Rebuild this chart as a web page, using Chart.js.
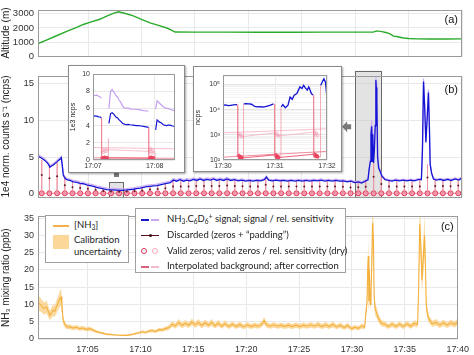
<!DOCTYPE html>
<html><head><meta charset="utf-8">
<script src="https://cdn.jsdelivr.net/npm/chart.js@4.4.1/dist/chart.umd.min.js"></script>
<style>
html,body{margin:0;padding:0;background:#fff;}
body{width:474px;height:355px;position:relative;overflow:hidden;font-family:"Liberation Sans",Arial,sans-serif;}
canvas{position:absolute;left:0;top:0;}
.inset{position:absolute;box-sizing:border-box;background:#fff;border:1px solid #8a8a8a;box-shadow:1px 1px 2px rgba(0,0,0,0.35);}
.lg{position:absolute;box-sizing:border-box;background:#fff;border:1px solid #a0a0a0;font-family:Lato,"Open Sans",sans-serif;font-size:9.5px;color:#222;}
.lg .t{position:absolute;white-space:nowrap;line-height:12px;}
.lg .ln{position:absolute;height:1.6px;}
.lg .dot{position:absolute;width:3px;height:3px;border-radius:50%;}
.lg .cir{position:absolute;box-sizing:border-box;width:6px;height:6px;border-radius:50%;}
sub,sup{font-size:70%;line-height:0;position:relative;vertical-align:baseline;}
sub{top:0.3em;} sup{top:-0.45em;}
</style></head>
<body>
<canvas id="ca" width="474" height="66"></canvas>
<canvas id="cb" width="474" height="141" style="top:66px"></canvas>
<canvas id="cc" width="474" height="148" style="top:207px"></canvas>
<div class="inset" style="left:68px;top:65px;width:117px;height:108px"><canvas id="ia" width="115" height="106"></canvas></div>
<div class="inset" style="left:193px;top:66px;width:149px;height:106px"><canvas id="ib" width="147" height="104"></canvas></div>

<div class="lg" style="left:45px;top:215px;width:84px;height:48px;">
  <i class="ln" style="left:7px;top:9px;width:16px;background:#f2b24a"></i>
  <span class="t" style="left:28px;top:3px">[NH<sub>3</sub>]</span>
  <i style="position:absolute;left:7px;top:19px;width:16px;height:14px;background:#fbd79a"></i>
  <span class="t" style="left:28px;top:18px">Calibration</span>
  <span class="t" style="left:28px;top:30px">uncertainty</span>
</div>

<div class="lg" style="left:135px;top:208px;width:211px;height:65px;">
  <i class="ln" style="left:5px;top:10px;width:8px;background:#1a1acc"></i>
  <i class="ln" style="left:15px;top:10px;width:8px;background:#c8a8f0"></i>
  <span class="t" style="left:31px;top:4px">NH<sub>3</sub>.C<sub>6</sub>D<sub>6</sub><sup>+</sup> signal; signal / rel. sensitivity</span>
  <i class="ln" style="left:5px;top:26px;width:18px;background:#5a0f1e;height:1.2px"></i>
  <i class="dot" style="left:12.5px;top:25px;background:#3a0810"></i>
  <span class="t" style="left:31px;top:20px">Discarded (zeros + “padding”)</span>
  <i class="cir" style="left:5px;top:39px;border:1.5px solid #e03050"></i>
  <i class="cir" style="left:16px;top:39px;border:1.2px solid #f4a9b9"></i>
  <span class="t" style="left:31px;top:36px">Valid zeros; valid zeros / rel. sensitivity (dry)</span>
  <i class="ln" style="left:5px;top:57px;width:8px;background:#d9607a"></i>
  <i class="ln" style="left:15px;top:57px;width:8px;background:#f4bccb"></i>
  <span class="t" style="left:31px;top:51px">Interpolated background; after correction</span>
</div>

<script>
// ---------- DATA (time in minutes after 17:00) ----------
const xTickVals = [5,10,15,20,25,30,35,40];
const xTickLabels = ['17:05','17:10','17:15','17:20','17:25','17:30','17:35','17:40'];

// (a) altitude
const altTime = [0.33,1.0,2.0,3.0,4.0,4.56,5.3,5.97,6.4,6.75,7.3,7.84,8.5,9.24,10.0,10.81,11.6,12.37,12.8,13.15,15,18,21,24,27,30,31.69,32.03,32.5,32.97,33.3,33.59,34.0,34.52,35.0,35.78,37,38.5,40.0];
const altVal  = [900,1110,1430,1750,2050,2240,2420,2575,2700,2820,3000,3130,3010,2850,2600,2350,2180,1990,1850,1710,1700,1700,1690,1690,1700,1700,1700,1790,1740,1660,1560,1420,1380,1290,1250,1230,1220,1215,1230];
const altTicks = [0,1000,2000,3000];

// (b) signal (1e4 ncps) and (c) NH3 (ppb)
const tSig = [0.33,0.6,0.9,1.13,1.3,1.44,1.6,1.75,1.9,2.07,2.2,2.38,2.5,2.58,2.69,2.85,3.01,3.3,3.63,3.95,4.25,4.55,4.88,5.2,5.5,5.8,6.13,6.45,6.75,7.2,7.69,8.15,8.62,8.95,9.24,9.55,9.87,10.2,10.5,10.8,11.12,11.45,11.74,12.05,12.37,12.7,12.99,13.3,13.62,13.95,14.24,14.55,14.86,15.2,15.49,15.8,16.12,16.45,16.74,17.05,17.36,17.7,17.99,18.35,18.7,19.05,19.4,19.75,20.1,20.45,20.8,21.15,21.5,21.7,21.9,22.25,22.6,22.95,23.3,23.65,24.0,24.35,24.7,25.05,25.4,25.75,26.1,26.45,26.8,27.15,27.5,27.85,28.2,28.55,28.9,29.25,29.6,29.95,30.3,30.6,30.95,31.2,31.3,31.42,31.48,31.55,31.6,31.65,31.72,31.8,31.88,31.94,31.98,32.03,32.1,32.2,32.35,32.5,32.8,33.1,33.45,33.8,34.15,34.5,34.85,35.2,35.55,35.9,36.2,36.3,36.4,36.5,36.62,36.75,36.86,36.95,37.02,37.15,37.33,37.6,37.95,38.3,38.65,39.0,39.35,39.7,40.0];
const sig = [5.1,4.9,4.6,4.3,4.0,3.6,3.8,3.9,4.1,4.3,4.5,4.7,4.9,4.0,2.5,2.1,1.9,1.8,1.6,1.55,1.4,1.35,1.2,1.1,1.0,0.85,0.75,0.65,0.55,0.52,0.48,0.45,0.5,0.55,0.6,0.68,0.75,0.85,0.95,1.0,1.05,1.1,1.2,1.3,1.4,1.5,1.85,1.7,1.9,1.7,1.85,1.75,1.95,1.8,2.0,1.8,1.95,1.85,2.0,1.8,1.95,1.8,2.0,1.8,1.9,1.75,1.85,1.7,1.8,1.7,1.8,1.75,1.9,2.25,1.85,1.75,1.85,1.75,1.8,1.7,1.8,1.7,1.8,1.7,1.8,1.72,1.82,1.75,1.85,1.72,1.8,1.7,1.82,1.7,1.75,1.6,1.7,1.5,1.6,1.45,1.7,1.9,3.2,4.4,8.1,9.2,4.4,8.1,4.2,6.0,9.3,15.5,14.5,12.8,5.0,3.5,3.0,2.4,1.9,1.8,1.7,1.85,1.75,1.85,1.75,1.85,1.75,1.9,1.9,6.0,15.3,12.0,7.0,10.5,13.8,9.0,4.0,2.8,2.0,1.85,1.95,1.8,1.95,1.8,2.0,1.85,2.15];
const sigRel = [5.3,5.1,4.8,4.5,4.2,3.8,4.0,4.1,4.3,4.5,4.7,4.9,5.1,4.2,2.7,2.3,2.1,2.0,1.8,1.75,1.6,1.55,1.4,1.3,1.2,1.05,0.95,0.85,0.75,0.72,0.68,0.65,0.7,0.75,0.8,0.88,0.95,1.05,1.15,1.2,1.25,1.3,1.4,1.5,1.6,1.7,2.05,1.9,2.1,1.9,2.05,1.95,2.15,2.0,2.2,2.0,2.15,2.05,2.2,2.0,2.15,2.0,2.2,1.95,2.05,1.9,2.0,1.85,1.95,1.85,1.95,1.9,2.05,2.4,2.0,1.9,2.0,1.9,1.95,1.85,1.95,1.85,1.95,1.85,1.95,1.87,1.97,1.9,2.0,1.87,1.95,1.85,1.97,1.85,1.9,1.75,1.85,1.65,1.75,1.6,1.85,2.05,3.4,4.7,8.7,10.1,4.8,8.7,4.5,6.4,9.9,15.9,15.0,13.3,5.3,3.7,3.2,2.55,2.05,1.95,1.85,2.0,1.9,2.0,1.9,2.0,1.9,2.05,2.05,6.3,15.7,12.4,7.3,10.9,14.2,9.4,4.2,3.0,2.15,2.0,2.1,1.95,2.1,1.95,2.15,2.0,2.3];
const nh3 = [10.5,9.8,8.8,9.3,7.9,6.8,7.6,8.4,8.0,9.4,10.2,11.6,12.2,9.8,5.6,4.2,3.6,3.5,3.2,3.4,3.0,3.2,2.8,3.0,2.6,2.2,1.9,1.7,1.4,1.3,1.15,1.1,1.05,1.2,1.3,1.6,1.8,2.1,1.9,2.3,2.4,2.2,2.7,2.6,3.0,3.3,4.3,3.8,4.8,3.9,4.6,4.0,4.9,4.1,4.8,3.9,4.7,4.0,4.8,3.8,4.6,3.7,4.5,3.6,4.3,3.6,4.2,3.5,4.1,3.6,4.0,3.7,4.3,5.3,4.2,3.7,4.1,3.7,4.0,3.6,4.0,3.6,4.0,3.6,4.0,3.7,4.1,3.7,4.2,3.6,4.1,3.6,4.2,3.5,4.0,3.3,3.9,3.0,3.4,3.1,3.8,3.4,7.0,10.5,19.0,24.0,11.0,20.0,10.0,14.0,22.0,33.5,31.5,29.0,12.0,8.5,7.5,6.0,4.5,4.3,3.6,4.3,3.6,4.3,3.6,4.4,3.7,4.5,4.2,14.0,33.3,28.0,17.0,24.0,30.0,21.0,10.0,7.0,5.5,4.4,4.8,4.0,4.7,4.0,4.7,4.2,5.0];
const calUncertainty = 0.2;   // relative calibration uncertainty
const sigTicks = [0,5,10,15];
const nh3Ticks = [0,5,10,15,20,25,30,35];

// zero measurements
const zeroTimes = [0.67,1.39,2.11,2.83,3.55,4.27,4.99,5.71,6.43,7.15,7.91,8.63,9.35,10.07,10.80,11.52,12.24,12.96,13.68,14.41,15.13,15.85,16.57,17.29,18.02,18.74,19.46,20.18,20.90,21.63,22.35,23.07,23.79,24.51,25.24,25.96,26.68,27.40,28.12,28.85,29.57,30.29,30.99,31.73,32.45,33.17,33.89,34.61,35.33,36.05,36.77,37.49,38.21,38.93,39.65];
const zeroTop = [4.6,3.8,4.3,2.1,1.6,1.4,1.2,0.95,0.65,0.52,0.45,0.55,0.65,0.8,1.0,1.15,1.35,1.8,1.75,1.8,1.9,1.9,1.9,1.9,2.0,1.9,1.85,1.8,1.8,2.2,1.8,1.8,1.75,1.8,1.75,1.75,1.8,1.8,1.75,1.7,1.5,1.6,1.7,4.2,2.4,1.8,1.8,1.8,1.75,1.8,4.0,1.9,1.9,1.85,2.0];
const zeroLevel = 0.05;

// highlighted regions
const boxA = [7.0, 8.33, -0.4, 1.6];
const boxB = [30.0, 32.4];

// inset (a): 1e3 ncps
const insetATime = [7.0,7.03,7.066,7.09,7.12,7.135,7.2,7.258,7.285,7.31,7.34,7.37,7.4,7.42,7.45,7.48,7.5,7.53,7.57,7.6,7.65,7.7,7.74,7.78,7.82,7.86,7.9,7.95,8.016,8.04,8.08,8.11,8.14,8.19,8.22,8.25,8.29,8.33];
const insetABlue = [5.2,5.1,5.1,5.0,5.0,4.9,null,4.25,5.4,5.5,5.3,5.0,4.9,4.7,4.5,4.25,4.2,4.1,4.15,4.1,4.05,4.0,4.0,3.95,3.9,3.85,3.8,null,3.5,4.65,4.4,4.3,4.1,4.0,4.05,4.05,3.95,3.9];
const insetAPurple = [7.6,7.5,7.55,7.4,7.3,7.2,null,6.0,8.0,8.2,7.9,7.5,7.3,7.0,6.7,6.3,6.1,6.0,6.05,5.95,5.9,5.9,5.85,5.8,5.75,5.7,5.7,null,5.9,6.9,6.6,6.4,6.2,6.0,6.0,5.9,5.8,5.7];
const insetADiscTime = [7.137,7.14,7.19,7.245,7.25,7.3,7.9,7.905,7.95,8.0,8.005];
const insetADiscVal  = [4.9,0.3,null,0.3,2.5,null,3.8,0.3,null,0.3,1.0];
const insetAZeroTime = [7.15,7.17,7.19,7.21,7.23,7.92,7.94,7.96,7.98];
const insetAZeroVal  = [0.25,0.2,0.3,0.2,0.25,0.22,0.3,0.2,0.25];
const insetAZeroRel  = [1.1,0.9,1.3,1.0,1.2,1.0,1.3,0.8,1.1];
const insetABgTime = [7.0,8.33];
const insetABgLow  = [0.25,0.2];
const insetABgHigh = [1.45,1.3];
const insetATicks = [0,2,4,6,8,10];
const insetAXTicks = [7,8];
const insetAXLabels = ['17:07','17:08'];

// inset (b): ncps (log)
const insetBTime = [30.0,30.05,30.1,30.15,30.2,30.27,30.33,30.4,30.45,30.5,30.55,30.61,30.65,30.7,30.75,30.8,30.85,30.9,30.97,31.05,31.12,31.15,31.2,31.25,31.29,31.33,31.37,31.42,31.45,31.48,31.52,31.55,31.58,31.62,31.65,31.7,31.73,31.8,31.88,31.91,31.94,31.97,32.0];
const insetBBlue = [15000,15500,14500,15000,15500,16000,null,17000,17500,17000,16500,13500,13000,13200,12800,13000,14000,15000,17000,null,13000,16000,12000,15000,32000,26000,38000,44000,60000,81000,70000,94000,75000,60000,81000,44000,38000,null,94000,130000,170000,125000,30000];
const insetBDiscTime = [30.28,30.285,30.33,30.39,30.395,30.7,30.99,30.995,31.05,31.11,31.115,31.5,31.74,31.745,31.8,31.87,31.875];
const insetBDiscVal  = [16000,130,null,130,17000,null,17000,130,null,130,13000,null,38000,130,null,130,94000];
const insetBZeroTime = [30.30,30.32,30.34,30.36,31.01,31.03,31.05,31.07,31.76,31.78,31.80,31.82];
const insetBZeroVal  = [150,125,135,120,160,130,140,125,170,140,150,135];
const insetBZeroRel  = [1100,900,1000,850,1200,950,1050,900,1300,1000,1150,950];
const insetBBgTime = [30.0,32.0];
const insetBBgLow  = [130,220];
const insetBBgHigh = [1200,1740];
const insetBTicks = [100,1000,10000,100000];
const insetBLabels = ['10²','10³','10⁴','10⁵'];
const insetBXTicks = [30,31,32];
const insetBXLabels = ['17:30','17:31','17:32'];

// ---------- helpers ----------
const pts = (xs, ys) => xs.map((x,i)=>({x:x, y:ys[i]}));
const FONT = '"Liberation Sans", Arial, sans-serif';
const GRID = '#e9e9e9';

const framePlugin = {
  id:'frame',
  afterDraw(c){
    const a=c.chartArea, ctx=c.ctx;
    ctx.save(); ctx.strokeStyle='#9a9a9a'; ctx.lineWidth=1;
    ctx.strokeRect(Math.round(a.left)+0.5, Math.round(a.top)+0.5, Math.round(a.right-a.left)-1, Math.round(a.bottom-a.top)-1);
    ctx.restore();
  }
};
const labelPlugin = {
  id:'panelLabel',
  afterDraw(c, args, o){
    if(!o || !o.text) return;
    const a=c.chartArea, ctx=c.ctx;
    ctx.save(); ctx.fillStyle='#111'; ctx.font='11px '+FONT; ctx.textAlign='right'; ctx.textBaseline='middle';
    ctx.fillText(o.text, a.right-4, a.top+o.dy);
    ctx.restore();
  }
};

function xAxis(opts){
  return {
    type:'linear', min:opts.min, max:opts.max,
    afterBuildTicks:s=>{ s.ticks = opts.vals.map(v=>({value:v})); },
    afterFit:s=>{ s.height = opts.h; },
    grid:{color:GRID, drawTicks:false},
    border:{display:false},
    ticks:{display:opts.show, padding:opts.pad||4, color:'#333', font:{family:FONT,size:opts.fs||9},
           callback:(v,i)=>opts.labels[i], maxRotation:0, autoSkip:false}
  };
}
function yAxis(opts){
  return {
    type:opts.type||'linear', min:opts.min, max:opts.max,
    afterBuildTicks:s=>{ s.ticks = opts.vals.map(v=>({value:v})); },
    afterFit:s=>{ s.width = opts.w; },
    grid:{color:opts.gridColor||GRID, drawTicks:false},
    border:{display:false},
    ticks:{padding:opts.pad||4, color:'#333', font:{family:FONT,size:opts.fs||9.5},
           callback:opts.cb || (v=>v), autoSkip:false},
    title:{display:true, text:opts.title, color:'#222', font:{family:FONT,size:opts.tfs||10}, padding:{top:0,bottom:opts.tpad||2}}
  };
}
const base = (extra) => Object.assign({
  responsive:false, animation:false, events:[],
  plugins:{legend:{display:false}, tooltip:{enabled:false}},
}, extra);

// ---------- (a) altitude ----------
new Chart(document.getElementById('ca'), {
  type:'line',
  data:{datasets:[{data:pts(altTime,altVal), borderColor:'#2bab2b', borderWidth:1.4, pointRadius:0, tension:0}]},
  options: base({
    layout:{padding:{top:4,right:12,left:0,bottom:0}},
    scales:{
      x: xAxis({min:0.32,max:40,vals:xTickVals,labels:xTickLabels,show:false,h:3}),
      y: yAxis({min:0,max:3280,vals:altTicks,w:38,title:'Altitude (m)'})
    },
    plugins:{legend:{display:false},tooltip:{enabled:false},panelLabel:{text:'(a)',dy:10}}
  }),
  plugins:[framePlugin,labelPlugin]
});

// ---------- (b) signal ----------
const discPts = [];
zeroTimes.forEach((t,i)=>{
  discPts.push({x:t,y:zeroTop[i]},{x:t,y:zeroTop[i]*0.55},{x:t,y:0},{x:t,y:null});
});
const zeroPts = zeroTimes.map(t=>({x:t,y:zeroLevel}));

const zoomPlugin = {
  id:'zoomBoxes',
  beforeDatasetsDraw(c){
    const x=c.scales.x, y=c.scales.y, ctx=c.ctx, a=c.chartArea;
    ctx.save();
    const bx0=x.getPixelForValue(boxB[0]), bx1=x.getPixelForValue(boxB[1]);
    const by0=a.top-5, by1=a.bottom;
    ctx.fillStyle='rgba(200,200,200,0.5)'; ctx.fillRect(bx0,by0,bx1-bx0,by1-by0);
    ctx.strokeStyle='#6a6a6a'; ctx.lineWidth=1; ctx.strokeRect(Math.round(bx0)+0.5,Math.round(by0)+0.5,Math.round(bx1-bx0),Math.round(by1-by0)-1);
    const ax0=x.getPixelForValue(boxA[0]), ax1=x.getPixelForValue(boxA[1]);
    const ay0=y.getPixelForValue(boxA[3]), ay1=y.getPixelForValue(boxA[2]);
    ctx.fillStyle='rgba(200,200,200,0.5)'; ctx.fillRect(ax0,ay0,ax1-ax0,ay1-ay0);
    ctx.strokeRect(Math.round(ax0)+0.5,Math.round(ay0)+0.5,Math.round(ax1-ax0),Math.round(ay1-ay0));
    ctx.restore();
  },
  afterDraw(c){
    const x=c.scales.x, y=c.scales.y, ctx=c.ctx, a=c.chartArea;
    ctx.save(); ctx.fillStyle='#7a7a7a';
    const cx=(x.getPixelForValue(boxA[0])+x.getPixelForValue(boxA[1]))/2;
    const top=y.getPixelForValue(boxA[3]);
    const yb=top-5, yt=top-16;
    ctx.beginPath();
    ctx.moveTo(cx-2.5,yb); ctx.lineTo(cx+2.5,yb); ctx.lineTo(cx+2.5,yt+5); ctx.lineTo(cx+5.5,yt+5);
    ctx.lineTo(cx,yt); ctx.lineTo(cx-5.5,yt+5); ctx.lineTo(cx-2.5,yt+5); ctx.closePath(); ctx.fill();
    const bx=x.getPixelForValue(boxB[0]);
    const cy=a.top+51, xr=bx-4, xl=bx-13;
    ctx.beginPath();
    ctx.moveTo(xr,cy-2.5); ctx.lineTo(xr,cy+2.5); ctx.lineTo(xl+5,cy+2.5); ctx.lineTo(xl+5,cy+5.5);
    ctx.lineTo(xl,cy); ctx.lineTo(xl+5,cy-5.5); ctx.lineTo(xl+5,cy-2.5); ctx.closePath(); ctx.fill();
    ctx.restore();
  }
};

new Chart(document.getElementById('cb'), {
  type:'line',
  data:{datasets:[
    {data:pts(tSig,sig), borderColor:'#1414d4', borderWidth:1.3, pointRadius:0, order:1},
    {data:pts(tSig,sigRel), borderColor:'#cfb0f4', borderWidth:1.2, pointRadius:0, order:2},
    {data:discPts, borderColor:'rgba(238,140,160,0.7)', borderWidth:0.9, spanGaps:false,
     pointRadius:ctx=>(ctx.dataIndex%4===1?1.0:0), pointBackgroundColor:'#5a1a26', pointBorderWidth:0, order:3},
    {data:zeroPts, showLine:true, borderColor:'rgba(242,135,158,0.9)', borderWidth:1.2,
     pointRadius:2.5, pointBackgroundColor:'#f6a2b5', pointBorderColor:'#e43a58', pointBorderWidth:1, order:4}
  ]},
  options: base({
    layout:{padding:{top:6,right:12,left:0,bottom:0}},
    scales:{
      x: xAxis({min:0.32,max:40,vals:xTickVals,labels:xTickLabels,show:false,h:2}),
      y: yAxis({min:-0.5,max:16.1,vals:sigTicks,w:38,title:'1e4 norm. counts s\u207B\u00B9 (ncps)'})
    },
    plugins:{legend:{display:false},tooltip:{enabled:false},panelLabel:{text:'(b)',dy:14}}
  }),
  plugins:[zoomPlugin,framePlugin,labelPlugin]
});

// ---------- (c) NH3 ----------
new Chart(document.getElementById('cc'), {
  type:'line',
  data:{datasets:[
    {data:pts(tSig,nh3.map(v=>v*(1-calUncertainty))), borderWidth:0, pointRadius:0, fill:false, order:3},
    {data:pts(tSig,nh3.map(v=>v*(1+calUncertainty))), borderWidth:0, pointRadius:0, fill:'-1', backgroundColor:'rgba(250,205,130,0.75)', order:2},
    {data:pts(tSig,nh3), borderColor:'#f3b03c', borderWidth:1.1, pointRadius:0, order:1}
  ]},
  options: base({
    layout:{padding:{top:3,right:12,left:0,bottom:0}},
    scales:{
      x: xAxis({min:0.32,max:40,vals:xTickVals,labels:xTickLabels,show:true,h:16,pad:5,fs:9}),
      y: yAxis({min:0,max:35.5,vals:nh3Ticks,w:38,title:'NH\u2083 mixing ratio (ppb)',fs:9})
    },
    plugins:{legend:{display:false},tooltip:{enabled:false},panelLabel:{text:'(c)',dy:11}}
  }),
  plugins:[framePlugin,labelPlugin]
});

// ---------- inset (a) ----------
new Chart(document.getElementById('ia'), {
  type:'line',
  data:{datasets:[
    {data:pts(insetATime,insetABlue), borderColor:'#1414d4', borderWidth:1.2, pointRadius:0, order:1},
    {data:pts(insetATime,insetAPurple), borderColor:'#c39ef0', borderWidth:1.2, pointRadius:0, order:2},
    {data:pts(insetADiscTime,insetADiscVal), borderColor:'rgba(235,120,140,0.75)', borderWidth:0.8, pointRadius:0, order:3},
    {data:pts(insetAZeroTime,insetAZeroRel), borderColor:'rgba(245,170,188,0.9)', borderWidth:0.8, pointRadius:1.3, pointBorderColor:'#f4a8bc', pointBackgroundColor:'rgba(0,0,0,0)', pointBorderWidth:0.8, order:4},
    {data:pts(insetAZeroTime,insetAZeroVal), borderColor:'#e83a58', borderWidth:0.8, pointRadius:1.5, pointBackgroundColor:'#ef4c6a', pointBorderColor:'#e83a58', order:5},
    {data:pts(insetABgTime,insetABgHigh), borderColor:'rgba(246,165,182,0.7)', borderWidth:1, pointRadius:0, order:6},
    {data:pts(insetABgTime,insetABgLow), borderColor:'rgba(236,95,118,0.7)', borderWidth:1, pointRadius:0, order:7}
  ]},
  options: base({
    layout:{padding:{top:8,right:9,left:0,bottom:0}},
    scales:{
      x: xAxis({min:7.0,max:8.33,vals:insetAXTicks,labels:insetAXLabels,show:true,h:12,pad:2,fs:7}),
      y: yAxis({min:0,max:10,vals:insetATicks,w:24,title:'1e3 ncps',fs:7,tfs:7,pad:3,tpad:1})
    }
  }),
  plugins:[framePlugin]
});

// ---------- inset (b) ----------
const insetBGrid = [];
[100,1000,10000,100000].forEach(d=>{ for(let k=1;k<10;k++){ const v=d*k; if(v<=240000) insetBGrid.push(v); } });
new Chart(document.getElementById('ib'), {
  type:'line',
  data:{datasets:[
    {data:pts(insetBTime,insetBBlue), borderColor:'#1414d4', borderWidth:1.3, pointRadius:0, order:1},
    {data:pts(insetBDiscTime,insetBDiscVal), borderColor:'rgba(235,120,140,0.75)', borderWidth:0.8, pointRadius:0, order:3},
    {data:pts(insetBZeroTime,insetBZeroRel), borderColor:'rgba(245,170,188,0.9)', borderWidth:0.8, pointRadius:1.3, pointBorderColor:'#f4a8bc', pointBackgroundColor:'rgba(0,0,0,0)', pointBorderWidth:0.8, order:4},
    {data:pts(insetBZeroTime,insetBZeroVal), borderColor:'#e83a58', borderWidth:0.8, pointRadius:1.5, pointBackgroundColor:'#ef4c6a', pointBorderColor:'#e83a58', order:5},
    {data:pts(insetBBgTime,insetBBgHigh), borderColor:'rgba(246,165,182,0.7)', borderWidth:1, pointRadius:0, order:6},
    {data:pts(insetBBgTime,insetBBgLow), borderColor:'rgba(236,95,118,0.7)', borderWidth:1, pointRadius:0, order:7}
  ]},
  options: base({
    layout:{padding:{top:8,right:14,left:0,bottom:0}},
    scales:{
      x: xAxis({min:30,max:32,vals:insetBXTicks,labels:insetBXLabels,show:true,h:11,pad:2,fs:7}),
      y: {
        type:'logarithmic', min:100, max:240000,
        afterBuildTicks:s=>{ s.ticks = insetBGrid.map(v=>({value:v})); },
        afterFit:s=>{ s.width = 29; },
        grid:{drawTicks:false, color:ctx=>(insetBTicks.includes(ctx.tick && ctx.tick.value) ? '#e4e4e4' : '#f3f3f3')},
        border:{display:false},
        ticks:{padding:3, color:'#333', font:{family:FONT,size:7}, autoSkip:false,
               callback:v=>{ const i=insetBTicks.indexOf(v); return i>=0 ? insetBLabels[i] : ''; }},
        title:{display:true, text:'ncps', color:'#222', font:{family:FONT,size:7}, padding:{top:0,bottom:1}}
      }
    }
  }),
  plugins:[framePlugin]
});
</script>
</body></html>
